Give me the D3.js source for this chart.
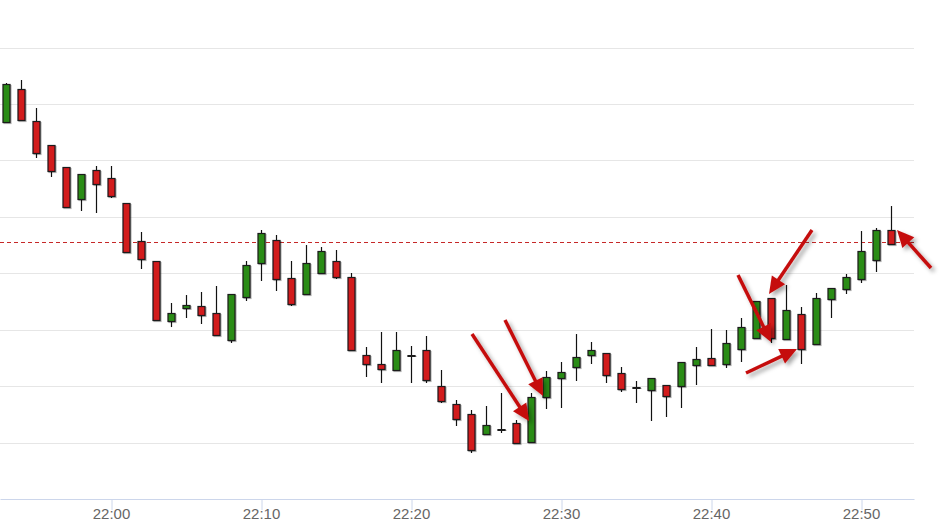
<!DOCTYPE html>
<html>
<head>
<meta charset="utf-8">
<script src="https://cdn.jsdelivr.net/npm/d3@7"></script>
<style>
  html, body { margin: 0; padding: 0; background: #fff; }
  svg { display: block; }
</style>
</head>
<body>
<svg id="chart" width="950" height="521"></svg>
<script>
// ---- DATA ----
const times = ["21:53","21:54","21:55","21:56","21:57","21:58","21:59","22:00","22:01","22:02",
  "22:03","22:04","22:05","22:06","22:07","22:08","22:09","22:10","22:11","22:12",
  "22:13","22:14","22:15","22:16","22:17","22:18","22:19","22:20","22:21","22:22",
  "22:23","22:24","22:25","22:26","22:27","22:28","22:29","22:30","22:31","22:32",
  "22:33","22:34","22:35","22:36","22:37","22:38","22:39","22:40","22:41","22:42",
  "22:43","22:44","22:45","22:46","22:47","22:48","22:49","22:50","22:51","22:52"];

const openV = [166.80,172.64,166.97,162.72,158.82,153.15,158.29,156.87,152.45,145.71,
  142.17,131.54,133.84,134.20,132.96,128.17,135.79,141.81,145.89,139.16,
  136.32,140.04,142.17,139.33,125.51,123.92,122.86,125.51,126.40,120.02,
  116.83,115.06,111.52,112.46,113.47,110.10,118.07,121.44,123.39,125.51,
  125.87,122.32,119.84,119.31,120.20,120.02,123.74,124.98,123.92,126.58,
  128.53,135.61,128.35,132.78,127.46,135.44,137.21,138.98,142.35,147.66];

const highV = [173.71,174.24,169.28,162.72,158.82,157.58,159.00,159.00,152.45,147.31,
  142.17,134.73,136.14,136.68,137.74,136.32,142.17,147.66,146.78,142.17,
  145.00,144.65,144.12,140.04,126.93,129.59,129.59,127.11,128.88,122.86,
  117.54,115.77,116.48,118.78,114.00,118.78,122.68,124.27,129.23,127.82,
  125.87,123.39,120.91,121.44,120.20,124.27,126.93,130.12,129.94,132.07,
  135.08,135.61,137.92,134.02,136.50,137.38,139.87,147.48,148.02,151.91];

const lowV = [166.80,167.15,160.42,157.05,151.74,151.03,150.67,153.33,143.76,140.75,
  131.72,130.47,132.07,131.01,128.88,127.64,135.08,138.63,136.85,134.20,
  136.32,140.04,138.98,126.40,121.62,120.55,122.86,120.55,120.55,117.01,
  112.93,108.15,111.52,111.69,109.92,110.10,115.95,116.12,120.91,123.92,
  120.55,118.96,117.01,113.82,114.53,116.12,120.20,123.74,123.21,124.27,
  128.53,127.64,128.17,123.92,127.46,132.07,136.32,138.27,140.22,145.18];

const closeV = [173.53,167.15,161.30,158.12,151.74,157.58,155.81,153.69,143.76,142.52,
  131.72,132.96,134.37,132.60,129.06,136.32,141.46,147.13,138.98,134.55,
  141.81,143.94,139.33,126.40,123.92,123.03,126.40,125.51,121.08,117.36,
  114.17,108.68,113.11,112.46,109.92,118.07,121.62,122.50,125.16,126.40,
  121.97,119.49,119.84,121.44,118.25,124.27,124.81,123.74,127.64,130.47,
  135.08,128.53,133.49,126.58,135.61,137.38,139.33,143.94,147.66,145.18];

const xTickLabels = ["22:00","22:10","22:20","22:30","22:40","22:50"];
const yGridValues = [100,110,120,130,140,150,160,170,180];
const refLevel = 145.62;

// annotation arrows: tail (time, price) -> tip (time, price)
const arrowTailTime  = ["22:24:04","22:26:16","22:46:44","22:41:48","22:42:20","22:54:40"];
const arrowTailPrice = [129.23, 131.72, 147.66, 139.69, 122.32, 140.93];
const arrowTipTime   = ["22:27:52","22:28:48","22:43:52","22:44:00","22:45:44","22:52:24"];
const arrowTipPrice  = [113.82, 118.25, 136.32, 127.82, 126.58, 147.66];

// ---- SETUP ----
const W = 950, H = 521;
const plotLeft = 0, plotRight = 914, plotTop = 47.5, plotBottom = 499;
const parseHM = d3.timeParse("%H:%M");
const parseHMS = d3.timeParse("%H:%M:%S");

const x = d3.scaleTime()
  .domain([parseHMS("21:52:36"), parseHMS("22:53:32")])
  .range([plotLeft, plotRight]);
const y = d3.scaleLinear()
  .domain([100, 180])
  .range([plotBottom, plotTop]);

const svg = d3.select("#chart");
svg.append("rect").attr("width", W).attr("height", H).attr("fill", "#fff");

const defs = svg.append("defs");
const fShadow = defs.append("filter").attr("id", "candleShadow")
  .attr("x", "-50%").attr("y", "-50%").attr("width", "200%").attr("height", "200%");
fShadow.append("feDropShadow").attr("dx", 1).attr("dy", 1)
  .attr("stdDeviation", 0.7).attr("flood-color", "#000").attr("flood-opacity", 0.3);
const aShadow = defs.append("filter").attr("id", "arrowShadow")
  .attr("x", "-50%").attr("y", "-50%").attr("width", "200%").attr("height", "200%");
aShadow.append("feDropShadow").attr("dx", 3).attr("dy", 3)
  .attr("stdDeviation", 2.2).attr("flood-color", "#000").attr("flood-opacity", 0.35);

// grid
const snap = v => Math.round(v) + 0.5;
svg.append("g").selectAll("line").data(yGridValues.filter(v => v > 100)).join("line")
  .attr("x1", plotLeft).attr("x2", plotRight)
  .attr("y1", d => snap(y(d))).attr("y2", d => snap(y(d)))
  .attr("stroke", "#e6e6e6").attr("stroke-width", 1);

// x axis
const xAxis = d3.axisBottom(x)
  .tickValues(xTickLabels.map(parseHM))
  .tickFormat(d3.timeFormat("%H:%M"))
  .tickSizeInner(11).tickSizeOuter(0).tickPadding(1.5);
const gx = svg.append("g").attr("transform", `translate(0,${snap(y(100)) - 0.5})`).call(xAxis);
gx.select(".domain").attr("stroke", "#ccd6eb").attr("stroke-width", 1.2);
gx.selectAll(".tick line").attr("stroke", "#ccd6eb").attr("transform", "translate(0.5,0)");
gx.selectAll(".tick text")
  .attr("y", 9.3)
  .attr("fill", "#666")
  .style("font-family", "'Liberation Sans', Arial, sans-serif")
  .style("font-size", "15px");

// reference dashed line
svg.append("line")
  .attr("x1", plotLeft).attr("x2", plotRight)
  .attr("y1", snap(y(refLevel))).attr("y2", snap(y(refLevel)))
  .attr("stroke", "#c62828").attr("stroke-width", 1)
  .attr("stroke-dasharray", "4,3");

// candles
const candles = times.map((t, i) => ({
  t: parseHM(t), o: openV[i], h: highV[i], l: lowV[i], c: closeV[i]
}));
const gC = svg.append("g");
const bodyW = 7;
const cg = gC.selectAll("g.candle").data(candles).join("g").attr("class", "candle");
cg.append("line")
  .attr("x1", d => Math.round(x(d.t)) + 0.5).attr("x2", d => Math.round(x(d.t)) + 0.5)
  .attr("y1", d => y(d.h)).attr("y2", d => y(d.l))
  .attr("stroke", "#111").attr("stroke-width", 1.2);
cg.append("rect")
  .attr("filter", "url(#candleShadow)")
  .attr("x", d => Math.round(x(d.t)) - bodyW / 2 + 0.5)
  .attr("width", bodyW)
  .attr("y", d => snap(y(Math.max(d.o, d.c))))
  .attr("height", d => Math.max(1, snap(y(Math.min(d.o, d.c))) - snap(y(Math.max(d.o, d.c)))))
  .attr("fill", d => d.c > d.o ? "#2b8c14" : (d.c < d.o ? "#d21a1c" : "#222"))
  .attr("stroke", "#1a1a1a").attr("stroke-width", 1.2);

// arrows
const arrows = arrowTailTime.map((t, i) => ({
  x1: x(parseHMS(t)), y1: y(arrowTailPrice[i]),
  x2: x(parseHMS(arrowTipTime[i])), y2: y(arrowTipPrice[i])
}));
const gA = svg.append("g").attr("filter", "url(#arrowShadow)");
const headLen = 17, headHalf = 8;
arrows.forEach(a => {
  const dx = a.x2 - a.x1, dy = a.y2 - a.y1;
  const len = Math.hypot(dx, dy);
  const ux = dx / len, uy = dy / len;
  const bx = a.x2 - ux * headLen, by = a.y2 - uy * headLen;
  const px = -uy, py = ux;
  gA.append("line")
    .attr("x1", a.x1).attr("y1", a.y1)
    .attr("x2", bx + ux * 2).attr("y2", by + uy * 2)
    .attr("stroke", "#c50f0f").attr("stroke-width", 3.5);
  gA.append("polygon")
    .attr("points", [
      [a.x2, a.y2],
      [bx + px * headHalf, by + py * headHalf],
      [bx - px * headHalf, by - py * headHalf]
    ].map(p => p.join(",")).join(" "))
    .attr("fill", "#c50f0f");
});
</script>
</body>
</html>
